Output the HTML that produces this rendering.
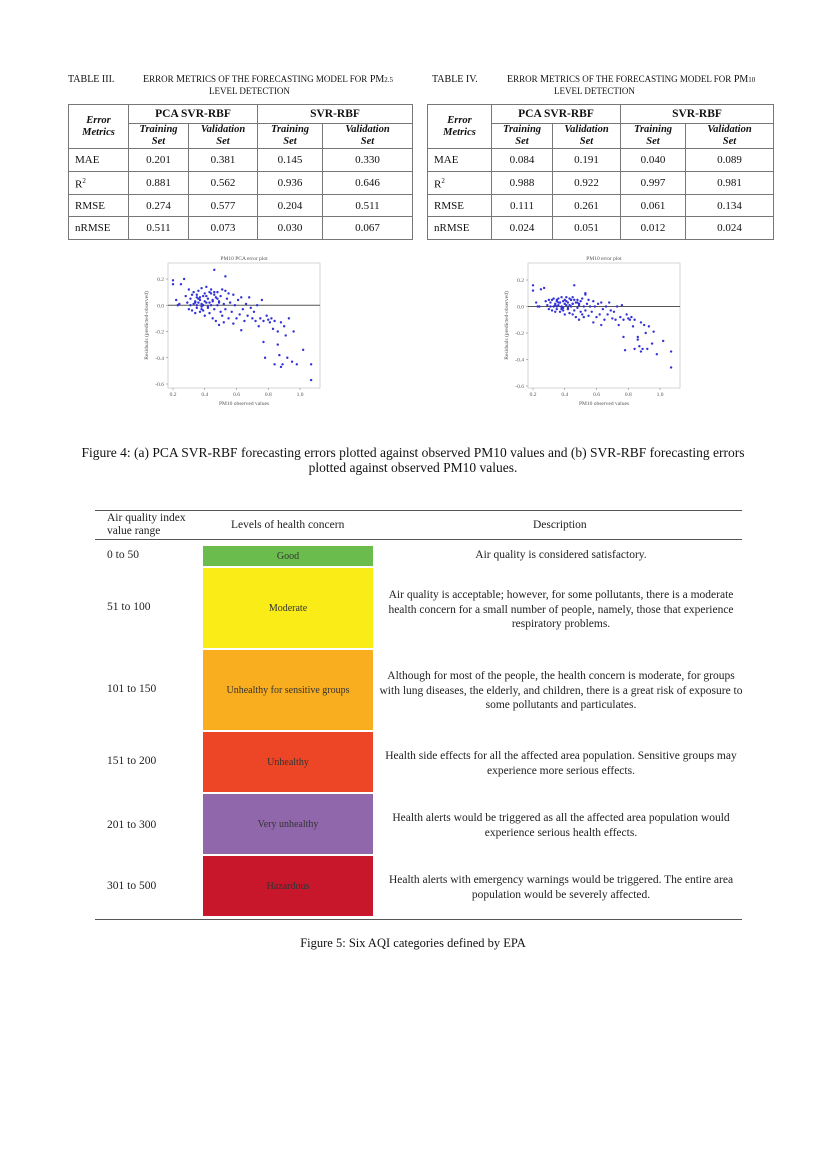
<!DOCTYPE html>
<html><head><meta charset="utf-8">
<style>
body{margin:0;background:#fff;}
#page{position:relative;width:826px;height:1169px;overflow:hidden;font-family:"Liberation Serif",serif;color:#111;}
.abs{position:absolute;}
table.m{position:absolute;border-collapse:collapse;font-size:11px;}
table.m td{border:1px solid #777;text-align:center;padding:0;line-height:12px;}
table.m td.l{text-align:left;padding-left:6px;}
.bi{font-weight:bold;font-style:italic;font-size:10.5px;}
.b{font-weight:bold;font-size:11.5px;}
.cap{position:absolute;left:40px;width:746px;text-align:center;font-size:13.5px;line-height:15px;}
.sc{font-size:9px;}
.aq{position:absolute;font-size:11.5px;color:#222;}
.box{position:absolute;left:203px;width:170px;display:flex;align-items:center;justify-content:center;font-size:10px;color:#333;}
.desc{position:absolute;left:374px;width:374px;text-align:center;font-size:11.5px;line-height:14.5px;color:#222;}
</style></head><body>
<div id="page">

<div class="abs" style="left:68px;top:74px;font-size:10px;">TABLE III.</div>
<div class="abs" style="left:143px;top:74px;font-size:10px;line-height:11px;width:260px;">E<span class="sc">RROR</span> M<span class="sc">ETRICS OF THE FORECASTING MODEL FOR</span> PM<span style="font-size:7px">2.5</span><br><span class="sc" style="padding-left:66px">LEVEL DETECTION</span></div>
<table class="m" style="left:68px;top:104px;width:345px;">
<tr style="height:19px"><td rowspan="2" class="bi" style="width:59px">Error<br>Metrics</td><td colspan="2" class="b">PCA SVR-RBF</td><td colspan="2" class="b">SVR-RBF</td></tr>
<tr style="height:24px"><td class="bi" style="width:59px">Training<br>Set</td><td class="bi" style="width:68px">Validation<br>Set</td><td class="bi" style="width:64px">Training<br>Set</td><td class="bi">Validation<br>Set</td></tr>
<tr style="height:23px"><td class="l">MAE</td><td>0.201</td><td>0.381</td><td>0.145</td><td>0.330</td></tr>
<tr style="height:23px"><td class="l">R<sup style="font-size:7px">2</sup></td><td>0.881</td><td>0.562</td><td>0.936</td><td>0.646</td></tr>
<tr style="height:22px"><td class="l">RMSE</td><td>0.274</td><td>0.577</td><td>0.204</td><td>0.511</td></tr>
<tr style="height:23px"><td class="l">nRMSE</td><td>0.511</td><td>0.073</td><td>0.030</td><td>0.067</td></tr>
</table>

<div class="abs" style="left:432px;top:74px;font-size:10px;">TABLE IV.</div>
<div class="abs" style="left:507px;top:74px;font-size:10px;line-height:11px;width:260px;">E<span class="sc">RROR</span> M<span class="sc">ETRICS OF THE FORECASTING MODEL FOR</span> PM<span style="font-size:7px">10</span><br><span class="sc" style="padding-left:47px">LEVEL DETECTION</span></div>
<table class="m" style="left:427px;top:104px;width:347px;">
<tr style="height:19px"><td rowspan="2" class="bi" style="width:63px">Error<br>Metrics</td><td colspan="2" class="b">PCA SVR-RBF</td><td colspan="2" class="b">SVR-RBF</td></tr>
<tr style="height:24px"><td class="bi" style="width:60px">Training<br>Set</td><td class="bi" style="width:67px">Validation<br>Set</td><td class="bi" style="width:64px">Training<br>Set</td><td class="bi">Validation<br>Set</td></tr>
<tr style="height:23px"><td class="l">MAE</td><td>0.084</td><td>0.191</td><td>0.040</td><td>0.089</td></tr>
<tr style="height:23px"><td class="l">R<sup style="font-size:7px">2</sup></td><td>0.988</td><td>0.922</td><td>0.997</td><td>0.981</td></tr>
<tr style="height:22px"><td class="l">RMSE</td><td>0.111</td><td>0.261</td><td>0.061</td><td>0.134</td></tr>
<tr style="height:23px"><td class="l">nRMSE</td><td>0.024</td><td>0.051</td><td>0.012</td><td>0.024</td></tr>
</table>

<svg class="abs" style="left:0;top:0" width="826" height="420" id="plots"></svg>

<div class="cap" style="top:445px;">Figure 4: (a) PCA SVR-RBF forecasting errors plotted against observed PM10 values and (b) SVR-RBF forecasting errors<br>plotted against observed PM10 values.</div>

<div class="abs" style="left:95px;top:510px;width:647px;height:0;border-top:1.5px solid #555"></div>
<div class="abs" style="left:95px;top:539px;width:647px;height:0;border-top:1px solid #555"></div>
<div class="abs" style="left:95px;top:919px;width:647px;height:0;border-top:1px solid #555"></div>
<div class="aq" style="left:107px;top:512px;line-height:13px;">Air quality index<br>value range</div>
<div class="aq" style="left:231px;top:519px;">Levels of health concern</div>
<div class="aq" style="left:533px;top:519px;">Description</div>

<div class="aq" style="left:107px;top:549px">0 to 50</div>
<div class="aq" style="left:107px;top:601px">51 to 100</div>
<div class="aq" style="left:107px;top:683px">101 to 150</div>
<div class="aq" style="left:107px;top:755px">151 to 200</div>
<div class="aq" style="left:107px;top:819px">201 to 300</div>
<div class="aq" style="left:107px;top:880px">301 to 500</div>

<div class="box" style="top:546px;height:20px;background:#6abd4c">Good</div>
<div class="box" style="top:568px;height:80px;background:#f9ec17">Moderate</div>
<div class="box" style="top:650px;height:80px;background:#f8ae1e">Unhealthy for sensitive groups</div>
<div class="box" style="top:732px;height:60px;background:#ec4627">Unhealthy</div>
<div class="box" style="top:794px;height:60px;background:#9167ab">Very unhealthy</div>
<div class="box" style="top:856px;height:60px;background:#c8162b">Hazardous</div>

<div class="desc" style="top:548px">Air quality is considered satisfactory.</div>
<div class="desc" style="top:588px">Air quality is acceptable; however, for some pollutants, there is a moderate<br>health concern for a small number of people, namely, those that experience<br>respiratory problems.</div>
<div class="desc" style="top:669px">Although for most of the people, the health concern is moderate, for groups<br>with lung diseases, the elderly, and children, there is a great risk of exposure to<br>some pollutants and particulates.</div>
<div class="desc" style="top:749px">Health side effects for all the affected area population. Sensitive groups may<br>experience more serious effects.</div>
<div class="desc" style="top:811px">Health alerts would be triggered as all the affected area population would<br>experience serious health effects.</div>
<div class="desc" style="top:873px">Health alerts with emergency warnings would be triggered. The entire area<br>population would be severely affected.</div>

<div class="cap" style="top:936px;font-size:12.5px;">Figure 5: Six AQI categories defined by EPA</div>
</div>

<script>
const xTicks=[0.2,0.4,0.6,0.8,1.0];
const xTickLabels=["0.2","0.4","0.6","0.8","1.0"];
const yTicks=[0.2,0.0,-0.2,-0.4,-0.6];
const yTickLabels=["0.2","0.0","-0.2","-0.4","-0.6"];
const obsA=[0.20,0.20,0.22,0.23,0.24,0.25,0.27,0.28,0.29,0.30,0.30,0.31,0.32,0.32,0.33,0.33,0.34,0.34,0.35,0.35,0.35,0.36,0.36,0.37,0.37,0.38,0.38,0.38,0.39,0.39,0.40,0.40,0.40,0.41,0.41,0.42,0.42,0.43,0.43,0.44,0.44,0.45,0.45,0.46,0.46,0.46,0.47,0.47,0.48,0.48,0.49,0.49,0.50,0.50,0.51,0.51,0.52,0.52,0.53,0.53,0.54,0.55,0.55,0.56,0.57,0.58,0.58,0.59,0.60,0.61,0.62,0.63,0.63,0.64,0.65,0.66,0.67,0.68,0.69,0.70,0.71,0.72,0.73,0.74,0.75,0.76,0.77,0.77,0.78,0.79,0.80,0.81,0.82,0.83,0.84,0.84,0.86,0.86,0.87,0.88,0.88,0.89,0.90,0.91,0.92,0.93,0.95,0.96,0.98,1.02,1.07,1.07,0.46,0.53,0.36,0.41,0.44,0.49,0.31,0.38,0.34,0.37,0.42,0.45,0.48,0.39,0.35,0.43];
const resA=[0.19,0.16,0.04,0.00,0.01,0.16,0.20,0.07,0.02,0.12,-0.03,0.05,0.08,-0.04,0.10,0.01,0.03,-0.06,0.06,0.00,-0.02,0.11,0.02,0.04,-0.05,0.13,0.01,-0.03,0.07,0.00,0.09,0.03,-0.08,0.14,0.02,0.05,-0.02,0.10,-0.06,0.12,0.00,0.04,-0.10,0.27,0.08,-0.03,0.06,-0.12,0.10,0.00,0.03,-0.15,0.07,-0.05,0.12,-0.08,0.01,-0.13,0.22,-0.03,0.05,0.09,-0.10,0.02,-0.05,0.08,-0.14,0.00,-0.10,0.04,-0.07,0.06,-0.19,-0.03,-0.12,0.01,-0.08,0.06,-0.02,-0.10,-0.05,-0.12,0.00,-0.16,-0.10,0.04,-0.28,-0.12,-0.40,-0.08,-0.11,-0.13,-0.10,-0.18,-0.45,-0.12,-0.30,-0.20,-0.38,-0.47,-0.13,-0.45,-0.16,-0.23,-0.40,-0.10,-0.43,-0.20,-0.45,-0.34,-0.45,-0.57,0.10,0.11,0.05,0.07,0.09,0.02,0.00,-0.01,0.02,0.06,-0.01,0.03,0.05,-0.04,0.08,0.02];
const obsB=[0.20,0.20,0.22,0.23,0.24,0.25,0.27,0.28,0.29,0.30,0.30,0.31,0.32,0.32,0.33,0.33,0.34,0.34,0.35,0.35,0.35,0.36,0.36,0.37,0.37,0.38,0.38,0.38,0.39,0.39,0.40,0.40,0.40,0.41,0.41,0.42,0.42,0.43,0.43,0.44,0.44,0.45,0.45,0.46,0.46,0.46,0.47,0.47,0.48,0.48,0.49,0.49,0.50,0.50,0.51,0.51,0.52,0.52,0.53,0.53,0.54,0.55,0.55,0.56,0.57,0.58,0.58,0.59,0.60,0.61,0.62,0.63,0.63,0.64,0.65,0.66,0.67,0.68,0.69,0.70,0.71,0.72,0.73,0.74,0.75,0.76,0.77,0.77,0.78,0.79,0.80,0.81,0.82,0.83,0.84,0.84,0.86,0.86,0.87,0.88,0.88,0.89,0.90,0.91,0.92,0.93,0.95,0.96,0.98,1.02,1.07,1.07,0.45,0.53,0.36,0.41,0.44,0.49,0.31,0.38,0.34,0.37,0.42,0.45,0.48,0.39,0.35,0.43];
const resB=[0.16,0.12,0.03,0.00,0.00,0.13,0.14,0.04,0.01,0.05,-0.02,0.03,0.05,-0.03,0.06,0.00,0.02,-0.04,0.04,0.00,-0.02,0.06,0.01,0.03,-0.04,0.07,0.00,-0.02,0.04,-0.01,0.05,0.02,-0.06,0.07,0.01,0.03,-0.02,0.06,-0.05,0.05,0.00,0.02,-0.06,0.16,0.05,-0.03,0.03,-0.08,0.05,-0.01,0.02,-0.10,0.04,-0.04,0.06,-0.06,0.00,-0.08,0.10,-0.03,0.02,0.05,-0.07,0.00,-0.04,0.04,-0.12,0.00,-0.08,0.02,-0.06,0.03,-0.14,-0.02,-0.10,0.00,-0.06,0.03,-0.03,-0.09,-0.04,-0.10,0.00,-0.14,-0.08,0.01,-0.23,-0.10,-0.33,-0.06,-0.09,-0.10,-0.08,-0.15,-0.32,-0.10,-0.25,-0.23,-0.30,-0.34,-0.12,-0.32,-0.14,-0.20,-0.32,-0.15,-0.28,-0.19,-0.36,-0.26,-0.34,-0.46,0.07,0.09,0.03,0.04,0.05,0.01,0.00,-0.01,0.01,0.03,-0.01,0.02,0.03,-0.03,0.05,0.01];

const svg=document.getElementById('plots');
const NS='http://www.w3.org/2000/svg';
function mk(tag,attrs,parent){const e=document.createElementNS(NS,tag);for(const k in attrs)e.setAttribute(k,attrs[k]);(parent||svg).appendChild(e);return e;}
function plot(cfg,xs,ys,title,name){
  const g=mk('g',{});
  
  
  const sx=v=>cfg.x02+(v-0.2)/0.8*(cfg.x10-cfg.x02);
  const sy=v=>cfg.y02+(0.2-v)/0.8*(cfg.ym06-cfg.y02);
  const fr=mk('rect',{x:cfg.l,y:cfg.t,width:cfg.r-cfg.l,height:cfg.b-cfg.t,fill:'none',stroke:'#ccc','stroke-width':0.8},g);
  
  
  xTicks.forEach((v,i)=>{
    mk('line',{x1:sx(v),x2:sx(v),y1:cfg.b,y2:cfg.b+2,stroke:'#888','stroke-width':0.6},g);
    const t=mk('text',{x:sx(v),y:cfg.b+8,'font-size':5.5,'text-anchor':'middle',fill:'#555','font-family':'Liberation Serif, serif'},g);
    t.textContent=xTickLabels[i];
    
    
  });
  yTicks.forEach((v,i)=>{
    mk('line',{x1:cfg.l-2,x2:cfg.l,y1:sy(v),y2:sy(v),stroke:'#888','stroke-width':0.6},g);
    const t=mk('text',{x:cfg.l-4,y:sy(v)+2,'font-size':5.5,'text-anchor':'end',fill:'#555','font-family':'Liberation Serif, serif'},g);
    t.textContent=yTickLabels[i];
    
    
  });
  const z=mk('line',{x1:cfg.l,x2:cfg.r,y1:sy(0),y2:sy(0),stroke:'#555','stroke-width':1},g);
  
  
  const n=Math.min(xs.length,ys.length);
  for(let i=0;i<n;i++){
    const c=mk('circle',{cx:sx(xs[i]),cy:sy(ys[i]),r:1.2,fill:'#3232d8'},g);
    
    
  }
  const tt=mk('text',{x:(cfg.l+cfg.r)/2,y:cfg.t-3,'font-size':5.5,'text-anchor':'middle',fill:'#555','font-family':'Liberation Serif, serif'},g);
  tt.textContent=title;
  
  
  const xl=mk('text',{x:(cfg.l+cfg.r)/2,y:cfg.b+17,'font-size':5.5,'text-anchor':'middle',fill:'#555','font-family':'Liberation Serif, serif'},g);
  xl.textContent='PM10 observed values';
  
  
  const yl=mk('text',{x:0,y:0,'font-size':5.5,'text-anchor':'middle',fill:'#555','font-family':'Liberation Serif, serif',transform:`translate(${cfg.l-20},${(cfg.t+cfg.b)/2}) rotate(-90)`},g);
  yl.textContent='Residuals (predicted-observed)';
  
  
}
plot({l:168,r:320,t:263,b:388,x02:173,x10:300,y02:279,ym06:384},obsA,resA,'PM10 PCA error plot','pca-error-plot');
plot({l:528,r:680,t:263,b:388,x02:533,x10:660,y02:280,ym06:386},obsB,resB,'PM10 error plot','svr-error-plot');
</script>
</body></html>
